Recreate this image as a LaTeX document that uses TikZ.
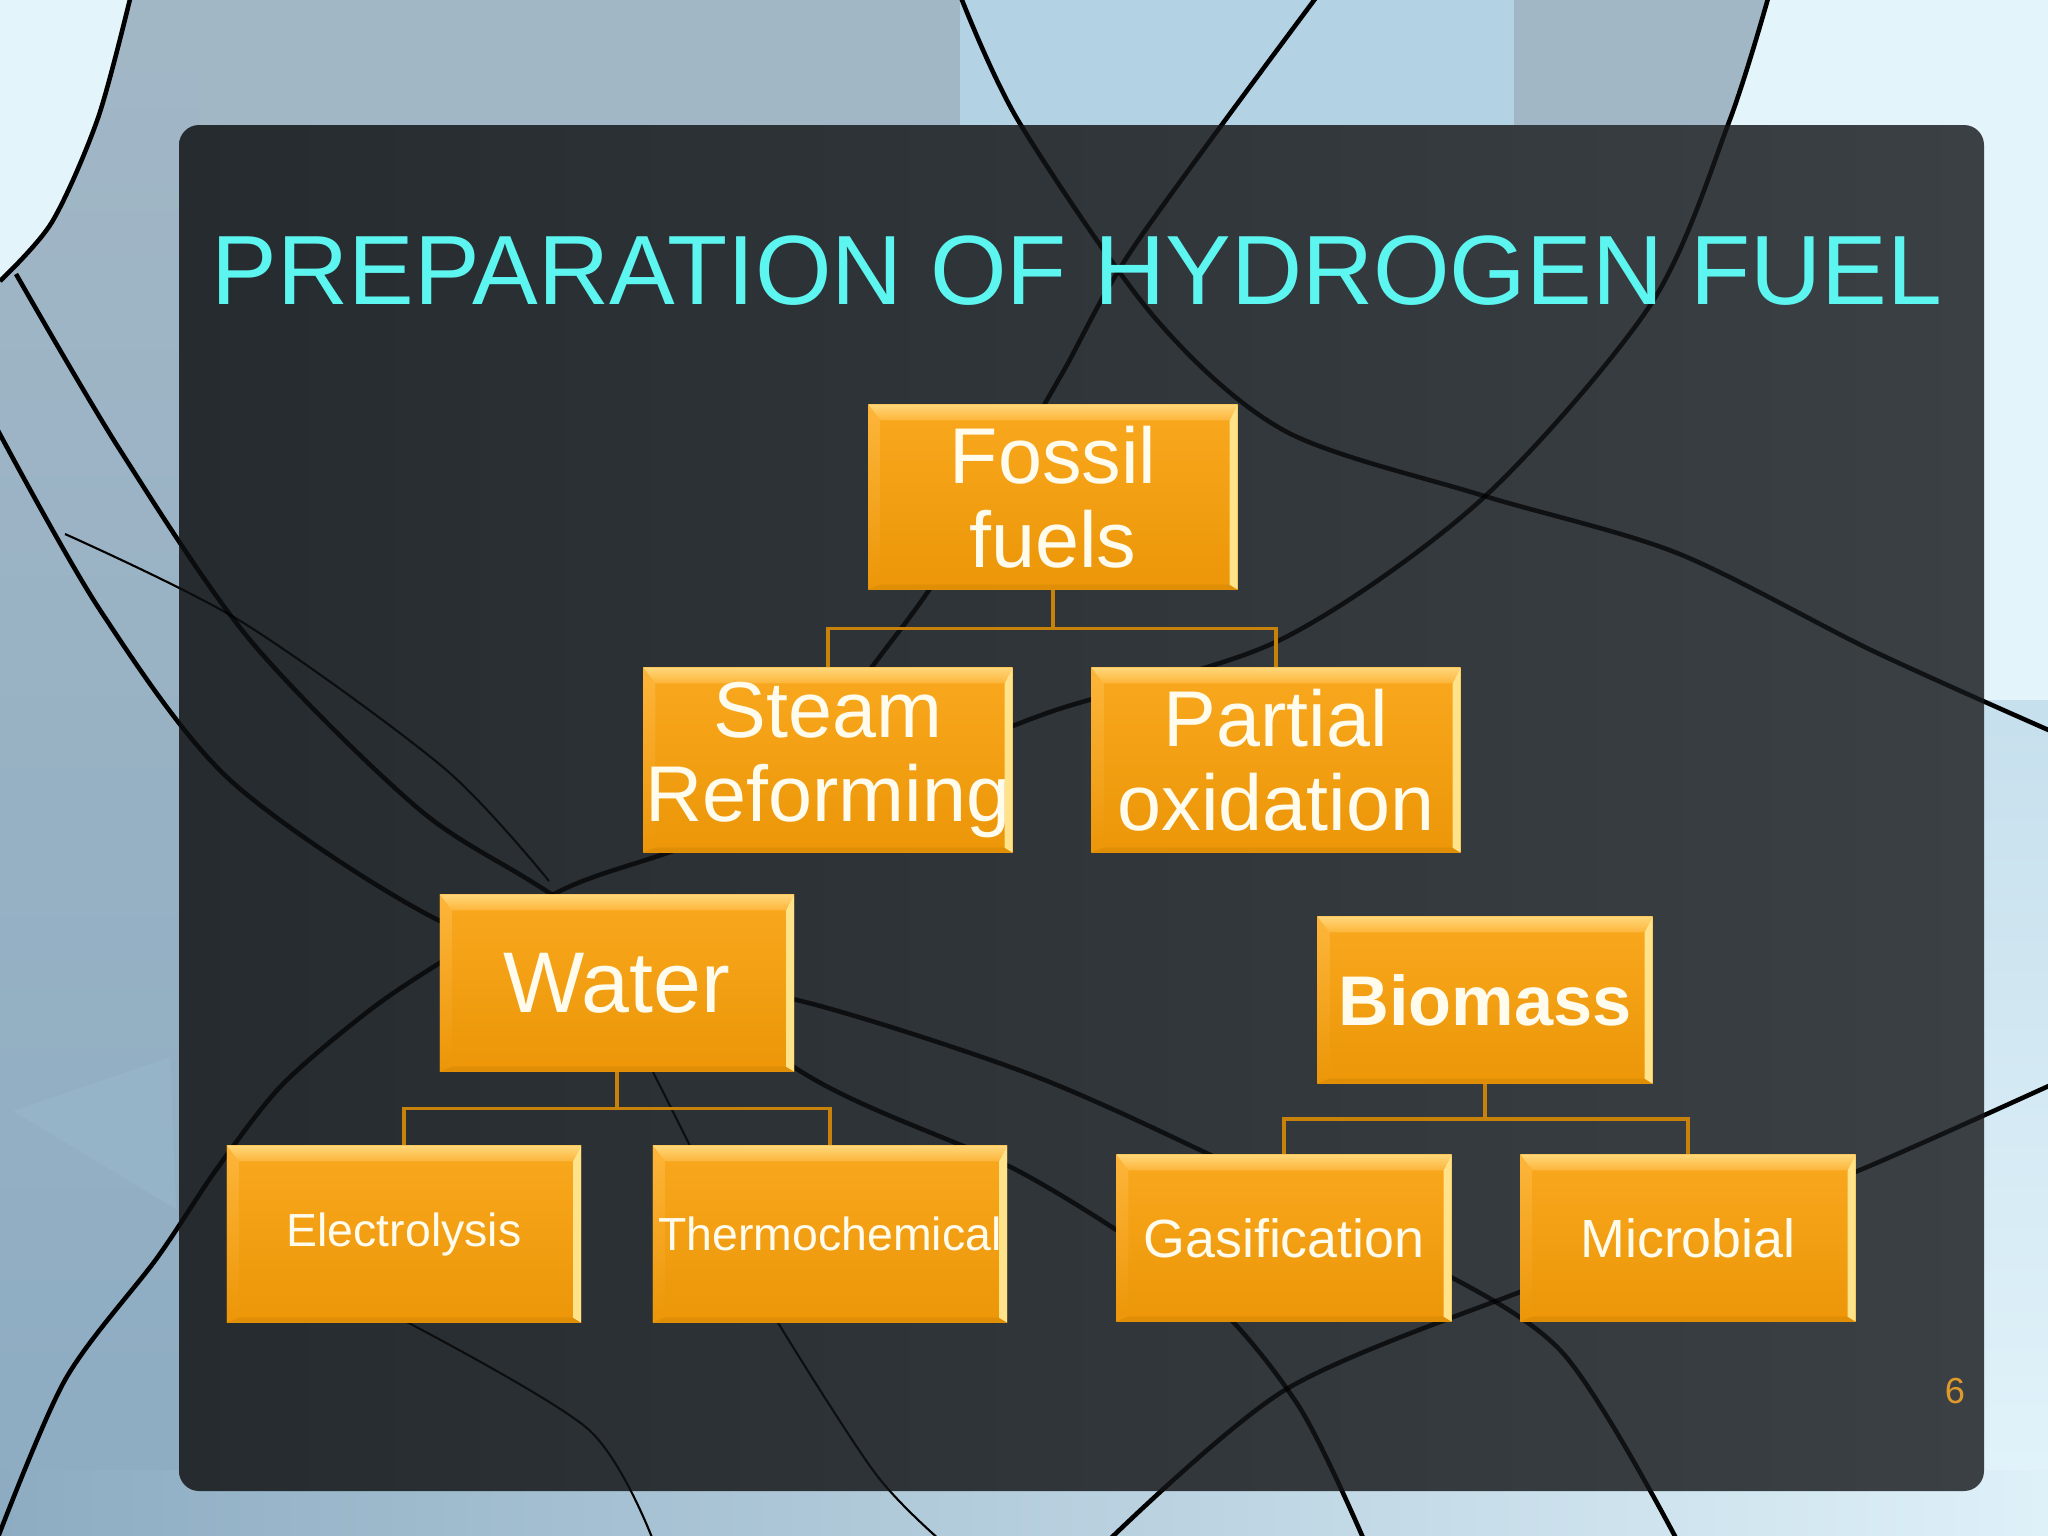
\documentclass[tikz,border=0pt]{standalone}
\usepackage{fontspec}
\setmainfont{Liberation Sans}
\usetikzlibrary{calc, positioning}

\definecolor{slidebg}{HTML}{A2B7C6}
\definecolor{slidedark}{HTML}{7F9BB0}
\definecolor{slidelow}{HTML}{8DACC2}
\definecolor{skylight}{HTML}{E3F4FB}
\definecolor{skyblue}{HTML}{B3D2E3}
\definecolor{panelA}{HTML}{262B2F}
\definecolor{panelB}{HTML}{3B4045}
\definecolor{titlecyan}{HTML}{5CF5F0}
\definecolor{boxtop}{HTML}{F9A81E}
\definecolor{boxbot}{HTML}{EC9608}
\definecolor{bevlight}{HTML}{FFD77A}
\definecolor{bevmid}{HTML}{FDB53A}
\definecolor{bevside}{HTML}{FFE38A}
\definecolor{bevdark}{HTML}{E08E06}
\definecolor{boxtext}{HTML}{FFFCEE}
\definecolor{linkorange}{HTML}{C8820A}
\definecolor{pagenum}{HTML}{E09A2A}

% the black sweeping lines of the slide backdrop
\newcommand{\backdropcurves}[1]{%
  \begin{scope}[draw=black, line width=1.3pt, #1]
    \draw plot[smooth] coordinates {(131,-5) (98,118) (52,222) (0,281)};
    \draw plot[smooth] coordinates {(1769,-5) (1729,122) (1651,304) (1481,500) (1280,640) (1050,712) (880,780) (673,851) (562,890) (438,964) (366,1013) (281,1086) (216,1170) (157,1258) (65,1380) (-5,1545)};
    \draw plot[smooth] coordinates {(960,-5) (1019,122) (1155,318) (1285,431) (1481,495) (1677,553) (1873,651) (2053,732)};
    \draw plot[smooth] coordinates {(1318,-5) (1135,245) (1063,372) (1000,480) (927,593) (869,671) (790,780)};
    \draw plot[smooth] coordinates {(-5,425) (100,610) (230,780) (438,920) (620,975) (797,1000) (1024,1072) (1200,1150) (1400,1250) (1560,1350) (1677,1540)};
    \draw plot[smooth] coordinates {(16,274) (120,450) (250,640) (420,810) (560,900) (810,1077) (1024,1174) (1200,1290) (1298,1405) (1364,1540)};
    \draw plot[smooth] coordinates {(2053,1084) (1860,1170) (1700,1230) (1520,1292) (1285,1390) (1109,1540)};
    \draw[line width=0.6pt] plot[smooth] coordinates {(65,534) (242,622) (444,768) (549,881)};
    \draw[line width=0.6pt] plot[smooth] coordinates {(653,1072) (692,1150) (740,1250) (777,1321) (875,1473) (940,1540)};
    \draw[line width=0.6pt] plot[smooth] coordinates {(405,1321) (588,1429) (653,1540)};
  \end{scope}}

\begin{document}
\begin{tikzpicture}[
    x=0.01cm, y=-0.01cm,
    % Define the style of the orange process boxes
    stage/.style={rectangle, inner sep=0pt, align=center, text=boxtext,
      top color=boxtop, bottom color=boxbot,
      path picture={
        \coordinate (pnw) at (path picture bounding box.north west);
        \coordinate (pne) at (path picture bounding box.north east);
        \coordinate (psw) at (path picture bounding box.south west);
        \coordinate (pse) at (path picture bounding box.south east);
        \shade[top color=bevmid, bottom color=boxbot] (pnw) -- (psw) -- ([xshift=3.4pt,yshift=1.4pt]psw) -- ([xshift=3.4pt,yshift=-4.5pt]pnw) -- cycle;
        \fill[bevdark] (psw) -- (pse) -- ([xshift=-2.3pt,yshift=1.4pt]pse) -- ([xshift=3.4pt,yshift=1.4pt]psw) -- cycle;
        \fill[bevside] (pne) -- (pse) -- ([xshift=-2.3pt,yshift=1.4pt]pse) -- ([xshift=-2.3pt,yshift=-4.5pt]pne) -- cycle;
        \shade[top color=bevlight, bottom color=bevmid] (pnw) -- (pne) -- ([xshift=-2.3pt,yshift=-4.5pt]pne) -- ([xshift=3.4pt,yshift=-4.5pt]pnw) -- cycle;
      }},
    % Define the sizes of the three box rows
    tall/.style={stage, minimum width=3.69cm, minimum height=1.85cm, font=\fontsize{22.5}{24}\selectfont},
    wide/.style={stage, minimum width=3.54cm, minimum height=1.77cm},
    short/.style={stage, minimum width=3.35cm, minimum height=1.67cm},
    % Define the style of the elbow connectors
    link/.style={draw=linkorange, line width=0.9pt,
      to path={|- ($(\tikztostart)!0.5!(\tikztotarget)$) -| (\tikztotarget)}},
    % Define the style of the heading
    heading/.style={anchor=base, inner sep=0pt, text=titlecyan, font=\fontsize{28}{30}\selectfont}
  ]

  \useasboundingbox (0,0) rectangle (2048,1536);

  % Backdrop
  \fill[slidebg] (0,0) rectangle (2048,1536);
  \shade[top color=slidebg, middle color=slidedark, bottom color=slidelow] (0,0) rectangle (200,1536);
  \fill[skyblue] (960,0) rectangle (1514,160);
  \fill[skylight] (0,0) -- plot[smooth] coordinates {(131,-5) (98,118) (52,222) (0,281)} -- cycle;
  \fill[skylight] plot[smooth] coordinates {(1769,-5) (1729,122) (1651,304) (1481,500)} -- plot[smooth] coordinates {(1481,495) (1677,553) (1873,651) (2053,732)} -- (2053,-5) -- cycle;
  \shade[top color=skyblue!60!skylight, bottom color=skylight] (1950,700) rectangle (2048,1536);
  \shade[left color=slidelow, right color=skylight!90!skyblue] (0,1470) rectangle (2048,1536);
  \fill[skyblue!45!slidedark] (13,1111) -- (170,1057) -- (176,1209) -- cycle;
  \backdropcurves{}

  % Dark panel
  \shade[rounded corners=0.2cm, left color=panelA, right color=panelB] (179,125) rectangle (1984,1491);
  \begin{scope}
    \clip[rounded corners=0.2cm] (179,125) rectangle (1984,1491);
    \backdropcurves{draw opacity=0.7}
  \end{scope}

  % Heading
  \node[heading] (title) at (1077,304) {PREPARATION OF HYDROGEN FUEL};

  % Fossil fuels branch
  \node[tall] (fossil) at (1053,497) {Fossil\\fuels};
  \node[tall] (steam) at (828,760) {Steam\\Reforming};
  \node[tall] (partial) at (1276,760) {Partial\\oxidation};

  % Water branch
  \node[wide, font=\fontsize{24.5}{26}\selectfont] (water) at (617,983) {Water};
  \node[wide, font=\fontsize{13.2}{15}\selectfont] (electro) at (404,1234) {Electrolysis};
  \node[wide, font=\fontsize{13.2}{15}\selectfont] (thermo) at (830,1234) {Thermochemical};

  % Biomass branch
  \node[short, font=\fontsize{20}{22}\bfseries] (biomass) at (1485,1000) {Biomass};
  \node[short, font=\fontsize{15.3}{17}\selectfont] (gasif) at (1284,1238) {Gasification};
  \node[short, font=\fontsize{15.3}{17}\selectfont] (microbial) at (1688,1238) {Microbial};

  % Connect the nodes
  \foreach \p/\c in {fossil/steam, fossil/partial, water/electro, water/thermo, biomass/gasif, biomass/microbial} {
    \draw[link] (\p.south) to (\c.north);
  }

  % Slide number
  \node[text=pagenum, font=\fontsize{10.3}{12}\selectfont] (pageno) at (1955,1391) {6};
\end{tikzpicture}
\end{document}
